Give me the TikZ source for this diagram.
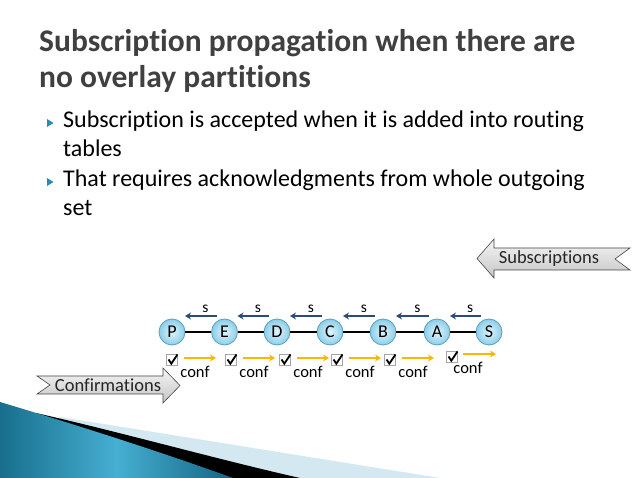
\documentclass[tikz,border=0pt]{standalone}
\usepackage{fontspec}
\setmainfont{Carlito}[Ligatures={NoCommon}]
\usetikzlibrary{arrows.meta}
\definecolor{titlec}{RGB}{64,64,64}
\definecolor{bulc}{RGB}{38,140,178}
\definecolor{nodeb}{RGB}{85,160,195}
\definecolor{nodei}{RGB}{225,245,252}
\definecolor{nodeo}{RGB}{140,205,232}
\definecolor{sarr}{RGB}{45,75,120}
\definecolor{carr}{RGB}{255,182,0}
\definecolor{swa}{RGB}{24,110,140}
\definecolor{swb}{RGB}{70,175,210}
\definecolor{swc}{RGB}{20,100,130}
\definecolor{swl}{RGB}{212,232,241}
\definecolor{banc}{RGB}{70,70,70}
\begin{document}
\begin{tikzpicture}[x=1pt,y=-1pt,
  titletext/.style={anchor=base west, inner sep=0pt, text=titlec, font=\fontsize{31.5}{36}\selectfont\bfseries},
  bodytext/.style={anchor=base west, inner sep=0pt, text=black, font=\fontsize{24}{28}\selectfont},
  peer/.style={circle, minimum size=26pt, inner sep=0pt, draw=nodeb, line width=0.8pt, inner color=nodei, outer color=nodeo, font=\fontsize{18}{21}\selectfont},
  link/.style={draw=black, line width=1.2pt},
  sarrow/.style={draw=sarr, line width=1.6pt, -{Stealth[length=6pt,width=7pt]}},
  carrow/.style={draw=carr, line width=1.6pt, -{Stealth[length=6pt,width=7pt]}},
  slabel/.style={font=\fontsize{15.5}{18}\selectfont, inner sep=0.5pt, text=black},
  clabel/.style={font=\fontsize{16.5}{19}\selectfont, inner sep=0pt, text=black},
  chkbox/.style={draw=gray!70, line width=0.5pt, minimum size=11pt, inner sep=0pt, fill=white},
  chkmark/.style={draw=black, line width=1.8pt},
  banner/.style={draw=banc, line width=0.6pt, top color=gray!8, bottom color=gray!45},
  bantext/.style={font=\fontsize{18.5}{22}\selectfont, inner sep=0pt, text=black!85}
]
\useasboundingbox (0,0) rectangle (638,478);
\fill[white] (0,0) rectangle (638,478);

% title
\node[titletext] (t1) at (39,52) {Subscription propagation when there are};
\node[titletext] (t2) at (39,88) {no overlay partitions};

% bullets
\fill[bulc] (47,119) -- (53.5,123) -- (47,127) -- cycle;
\node[bodytext] (b1) at (63,128) {Subscription is accepted when it is added into routing};
\node[bodytext] (b1b) at (63,157) {tables};
\fill[bulc] (47,178) -- (53.5,182) -- (47,186) -- cycle;
\node[bodytext] (b2) at (63,187) {That requires acknowledgments from whole outgoing};
\node[bodytext] (b2b) at (63,216) {set};

% Subscriptions banner
\path[banner] (477,258.5) -- (494,239) -- (494,248) -- (630,248) -- (615,259) -- (630,270) -- (494,270) -- (494,278) -- cycle;
\node[bantext] (subs) at (549,259) {Subscriptions};

% Confirmations banner
\path[banner] (37,376) -- (163,376) -- (163,368) -- (180,385.5) -- (163,403) -- (163,394) -- (37,394) -- (50,385) -- cycle;
\node[bantext] (conf) at (108,385) {Confirmations};

% peers
\node[peer] (P) at (172,332) {P};
\node[peer] (E) at (224.5,332) {E};
\node[peer] (D) at (277,332) {D};
\node[peer] (C) at (330,332) {C};
\node[peer] (B) at (383,332) {B};
\node[peer] (A) at (437,332) {A};
\node[peer] (S) at (489,332) {S};
\draw[link] (P) -- (E);
\draw[link] (E) -- (D);
\draw[link] (D) -- (C);
\draw[link] (C) -- (B);
\draw[link] (B) -- (A);
\draw[link] (A) -- (S);

% subscription arrows
\foreach \r/\l in {E/P, D/E, C/D, B/C, A/B, S/A}{
  \draw[sarrow] ([xshift=-8pt,yshift=16pt]\r.center) -- ([xshift=13pt,yshift=16pt]\l.center)
     node[slabel, pos=0.35, above=2pt] {s};
}

% confirmation boxes and arrows
\foreach \n/\x/\y in {1/172/360, 2/231/360, 3/285/360, 4/337/360, 5/390/360, 6/452/357}{
  \node[chkbox] (k\n) at (\x,\y) {};
  \draw[chkmark] (k\n.center) ++(-3.5,-0.5) -- ++(2.8,4.2) -- ++(6.2,-9.2);
}
\foreach \n in {1,2,3,4,5}{
  \draw[carrow] ([xshift=12pt,yshift=2pt]k\n.center) -- ([xshift=44pt,yshift=2pt]k\n.center);
  \node[clabel] (c\n) at ([xshift=23pt,yshift=-12pt]k\n.center) {conf};
}
\draw[carrow] ([xshift=11pt,yshift=3pt]k6.center) -- ([xshift=44pt,yshift=3pt]k6.center);
\node[clabel] (c6) at ([xshift=16pt,yshift=-11pt]k6.center) {conf};

% bottom swoosh
\fill[swl] (60,417) -- (440,478) -- (0,478) -- cycle;
\fill[black] (36,413) .. controls (120,432) and (220,460) .. (300,478) -- (0,478) -- cycle;
\shade[left color=swa, right color=swc, middle color=swb] (0,402) .. controls (60,420) and (150,448) .. (233,478) -- (0,478) -- cycle;
\end{tikzpicture}
\end{document}
